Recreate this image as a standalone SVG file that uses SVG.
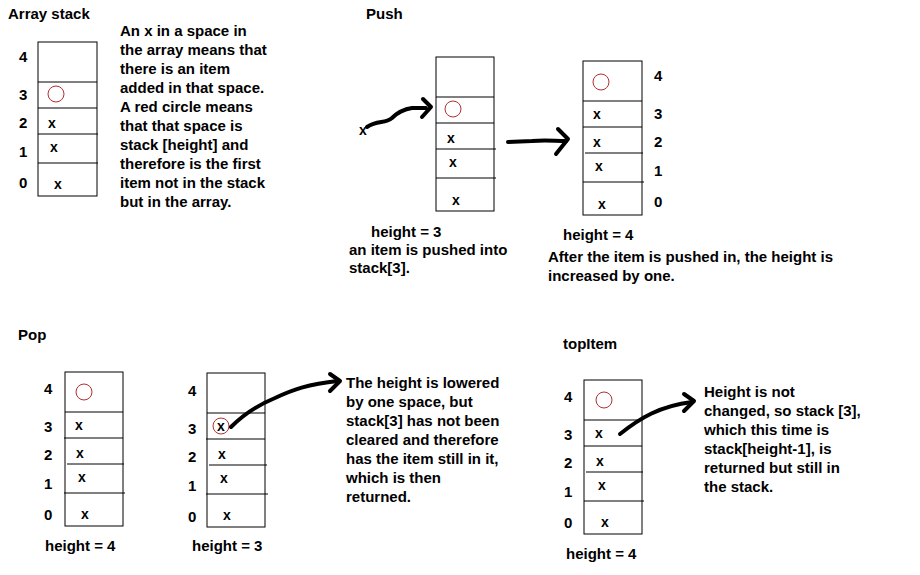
<svg xmlns="http://www.w3.org/2000/svg" width="920" height="575" viewBox="0 0 920 575">
<style>
text{font-family:"Liberation Sans",Arial,sans-serif;font-weight:bold;font-size:15px;fill:#000}
.b{fill:#fff;stroke:#000;stroke-width:1}
.l{stroke:#000;stroke-width:1}
.c{fill:none;stroke:#b03030;stroke-width:1}
.a{fill:none;stroke:#000;stroke-width:4;stroke-linecap:round;stroke-linejoin:round}
.x{font-size:14px}
</style>
<rect width="920" height="575" fill="#fff"/>
<g id="arraystack">
<text x="8" y="19">Array stack</text>
<rect class="b" x="38" y="42" width="59" height="154"/>
<line class="l" x1="38" y1="82" x2="97" y2="82"/><line class="l" x1="38" y1="108" x2="97" y2="108"/><line class="l" x1="38" y1="134" x2="98" y2="134"/><line class="l" x1="38" y1="163" x2="98" y2="163"/>
<circle class="c" cx="56" cy="94" r="8"/>
<text class="x" x="48" y="128">x</text><text class="x" x="50" y="152">x</text><text class="x" x="54" y="189">x</text>
<text x="19" y="62">4</text><text x="19" y="100">3</text><text x="19" y="128">2</text><text x="19" y="157">1</text><text x="19" y="188">0</text>
<text x="120" y="36">An x in a space in</text><text x="120" y="55">the array means that</text><text x="120" y="74">there is an item</text><text x="120" y="93">added in that space.</text><text x="120" y="112">A red circle means</text><text x="120" y="131">that that space is</text><text x="120" y="150">stack [height] and</text><text x="120" y="169">therefore is the first</text><text x="120" y="188">item not in the stack</text><text x="120" y="207">but in the array.</text>
</g>
<g id="push">
<text x="366" y="19">Push</text>
<text class="x" x="359" y="135">x</text>
<rect class="b" x="436" y="57" width="58" height="154"/>
<line class="l" x1="436" y1="97" x2="494" y2="97"/><line class="l" x1="436" y1="123" x2="494" y2="123"/><line class="l" x1="436" y1="149" x2="496" y2="149"/><line class="l" x1="436" y1="178" x2="496" y2="178"/>
<circle class="c" cx="453" cy="109" r="8"/>
<text class="x" x="447" y="143">x</text><text class="x" x="449" y="167">x</text><text class="x" x="452" y="205">x</text>
<text x="371" y="237">height = 3</text><text x="349" y="255">an item is pushed into</text><text x="349" y="273">stack[3].</text>
<rect class="b" x="583" y="61" width="59" height="154"/>
<line class="l" x1="583" y1="101" x2="642" y2="101"/><line class="l" x1="583" y1="127" x2="642" y2="127"/><line class="l" x1="585" y1="153" x2="643" y2="153"/><line class="l" x1="583" y1="182" x2="644" y2="182"/>
<circle class="c" cx="601" cy="82" r="8"/>
<text class="x" x="593" y="119">x</text><text class="x" x="593" y="147">x</text><text class="x" x="595" y="171">x</text><text class="x" x="598" y="209">x</text>
<text x="654" y="81">4</text><text x="654" y="119">3</text><text x="654" y="147">2</text><text x="654" y="176">1</text><text x="654" y="207">0</text>
<text x="563" y="240">height = 4</text><text x="548" y="262">After the item is pushed in, the height is</text><text x="548" y="281">increased by one.</text>
</g>
<g id="pop">
<text x="18" y="340">Pop</text>
<rect class="b" x="65" y="372" width="58" height="154"/>
<line class="l" x1="65" y1="412" x2="123" y2="412"/><line class="l" x1="64" y1="438" x2="123" y2="438"/><line class="l" x1="67" y1="464" x2="124" y2="464"/><line class="l" x1="64" y1="493" x2="125" y2="493"/>
<circle class="c" cx="84" cy="392" r="8"/>
<text class="x" x="75" y="430">x</text><text class="x" x="76" y="458">x</text><text class="x" x="78" y="482">x</text><text class="x" x="81" y="519">x</text>
<text x="44" y="394">4</text><text x="44" y="432">3</text><text x="44" y="460">2</text><text x="44" y="489">1</text><text x="44" y="520">0</text>
<text x="45" y="551">height = 4</text>
<rect class="b" x="207" y="373" width="58" height="154"/>
<line class="l" x1="207" y1="413" x2="265" y2="413"/><line class="l" x1="206" y1="439" x2="265" y2="439"/><line class="l" x1="209" y1="465" x2="267" y2="465"/><line class="l" x1="206" y1="494" x2="268" y2="494"/>
<circle class="c" cx="221" cy="426" r="8"/>
<text class="x" x="217" y="431">x</text><text class="x" x="218" y="459">x</text><text class="x" x="220" y="483">x</text><text class="x" x="223" y="520">x</text>
<text x="188" y="396">4</text><text x="188" y="434">3</text><text x="188" y="462">2</text><text x="188" y="491">1</text><text x="188" y="522">0</text>
<text x="192" y="551">height = 3</text>
<text x="346" y="388">The height is lowered</text><text x="346" y="407">by one space, but</text><text x="346" y="426">stack[3] has not been</text><text x="346" y="445">cleared and therefore</text><text x="346" y="464">has the item still in it,</text><text x="346" y="483">which is then</text><text x="346" y="502">returned.</text>
</g>
<g id="topitem">
<text x="563" y="349">topItem</text>
<rect class="b" x="584" y="380" width="58" height="154"/>
<line class="l" x1="584" y1="420" x2="642" y2="420"/><line class="l" x1="584" y1="446" x2="642" y2="446"/><line class="l" x1="586" y1="472" x2="643" y2="472"/><line class="l" x1="584" y1="501" x2="644" y2="501"/>
<circle class="c" cx="604" cy="400" r="8"/>
<text class="x" x="595" y="438">x</text><text class="x" x="596" y="466">x</text><text class="x" x="598" y="490">x</text><text class="x" x="601" y="527">x</text>
<text x="564" y="402">4</text><text x="564" y="440">3</text><text x="564" y="468">2</text><text x="564" y="497">1</text><text x="564" y="528">0</text>
<text x="566" y="559">height = 4</text>
<text x="704" y="397">Height is not</text><text x="704" y="416">changed, so stack [3],</text><text x="704" y="435">which this time is</text><text x="704" y="454">stack[height-1], is</text><text x="704" y="473">returned but still in</text><text x="704" y="492">the stack.</text>
</g>
<g id="connectors">
<path class="a" d="M367 127 C378 120 385 124 392 118 C398 112 405 109 412 108 L426 108"/>
<path class="a" d="M423 99 L431 107 L422 117"/>
<path class="a" d="M508 142 L532 141 C545 140 555 141 566 141"/>
<path class="a" d="M558 129 L568 139 L556 154"/>
<path class="a" d="M231 427 C245 413 258 405 275 398 C292 390 308 384 338 381"/>
<path class="a" d="M330 374 L340 381 L330 391"/>
<path class="a" d="M620 434 C640 418 660 406 692 402"/>
<path class="a" d="M684 394 L694 401 L684 411"/>
</g>
</svg>
